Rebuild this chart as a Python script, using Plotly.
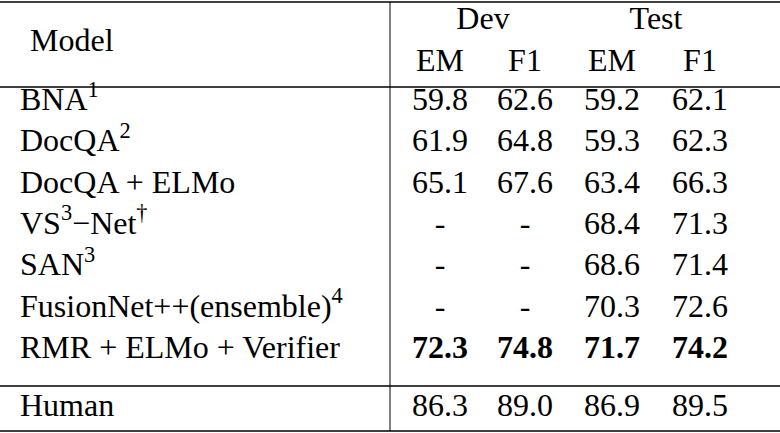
import plotly.graph_objects as go

models = ["BNA<sup>1</sup>", "DocQA<sup>2</sup>", "DocQA + ELMo", "VS<sup>3</sup>\u2212Net<sup>\u2020</sup>",
          "SAN<sup>3</sup>", "FusionNet++(ensemble)<sup>4</sup>", "RMR + ELMo + Verifier"]
dev_em = ["59.8", "61.9", "65.1", "-", "-", "-", "72.3"]
dev_f1 = ["62.6", "64.8", "67.6", "-", "-", "-", "74.8"]
test_em = ["59.2", "59.3", "63.4", "68.4", "68.6", "70.3", "71.7"]
test_f1 = ["62.1", "62.3", "66.3", "71.3", "71.4", "72.6", "74.2"]
human = ["86.3", "89.0", "86.9", "89.5"]
groups = ["Dev", "Test"]
subcols = ["EM", "F1", "EM", "F1"]

font = dict(family="Liberation Serif, Times New Roman, serif", size=32, color="black")
col_x = [440, 525, 612, 700]
row_y = [102 + i * 41.3 for i in range(len(models))]
best = len(models) - 1

fig = go.Figure()
fig.add_trace(go.Scatter(x=[20] * len(models), y=row_y, text=models, mode="text",
                         textposition="middle right", textfont=font))
for cx, col in zip(col_x, [dev_em, dev_f1, test_em, test_f1]):
    txt = [f"<b>{v}</b>" if i == best else v for i, v in enumerate(col)]
    fig.add_trace(go.Scatter(x=[cx] * len(col), y=row_y, text=txt, mode="text", textfont=font))
fig.add_trace(go.Scatter(x=[20], y=[408], text=["Human"], mode="text",
                         textposition="middle right", textfont=font))
fig.add_trace(go.Scatter(x=col_x, y=[408] * 4, text=human, mode="text", textfont=font))
fig.add_trace(go.Scatter(x=col_x, y=[63] * 4, text=subcols, mode="text", textfont=font))
fig.add_trace(go.Scatter(x=[483, 656], y=[21, 21], text=groups, mode="text", textfont=font))
fig.add_trace(go.Scatter(x=[30], y=[43], text=["Model"], mode="text",
                         textposition="middle right", textfont=font))

for y in [2, 87, 386, 431]:
    fig.add_shape(type="line", x0=0, x1=780, y0=y, y1=y, line=dict(color="black", width=1.5))
fig.add_shape(type="line", x0=390, x1=390, y0=2, y1=431, line=dict(color="black", width=1))

fig.update_xaxes(range=[0, 780], visible=False, fixedrange=True)
fig.update_yaxes(range=[433, 0], visible=False, fixedrange=True)
fig.update_layout(width=780, height=433, margin=dict(l=0, r=0, t=0, b=0),
                  showlegend=False, plot_bgcolor="white", paper_bgcolor="white")
fig.write_html("out.html", config=dict(displayModeBar=False),
               post_script="document.body.style.margin='0';")
